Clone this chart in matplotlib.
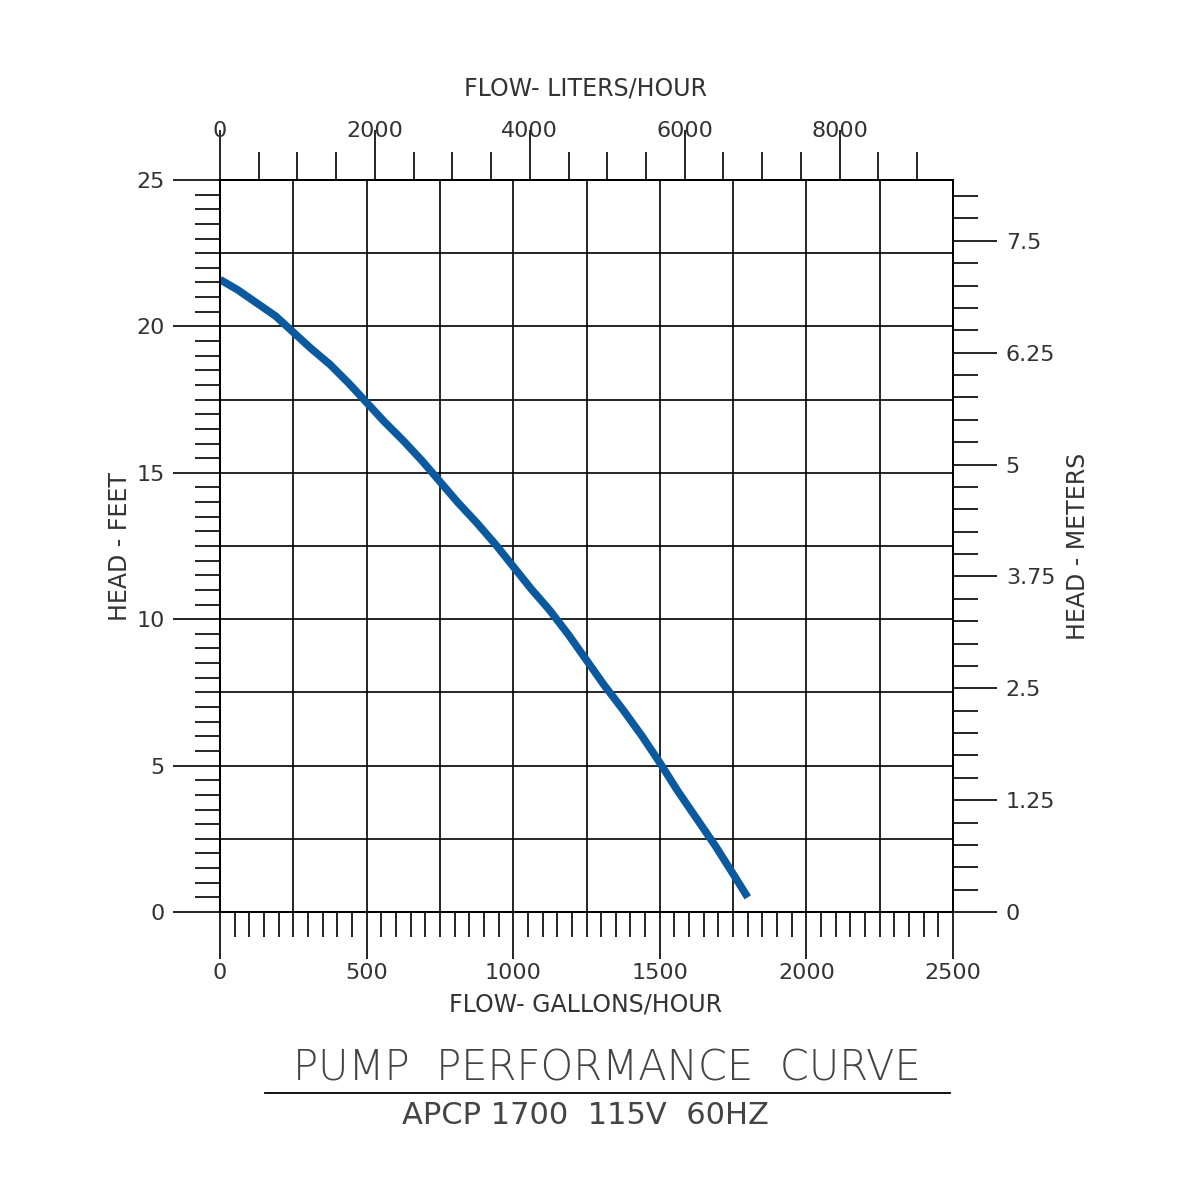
import numpy as np
import matplotlib
matplotlib.use("Agg")
import matplotlib.pyplot as plt
from matplotlib.ticker import MultipleLocator, FixedLocator

# pump curve (gallons/hour, head in feet)
flow_gph = [0, 60, 125, 190, 250, 310, 375, 440, 500, 560, 625, 690, 750, 810, 875, 940,
            1000, 1060, 1125, 1190, 1250, 1310, 1375, 1440, 1500, 1560, 1625, 1690, 1750, 1800]
head_ft = [21.6, 21.25, 20.8, 20.35, 19.8, 19.25, 18.7, 18.05, 17.4, 16.75, 16.1, 15.4, 14.7,
           14.0, 13.3, 12.55, 11.8, 11.05, 10.3, 9.45, 8.6, 7.75, 6.9, 6.0, 5.1, 4.15, 3.2,
           2.25, 1.3, 0.5]
lph_ticks = [0, 2000, 4000, 6000, 8000]
m_ticks = [0, 1.25, 2.5, 3.75, 5, 6.25, 7.5]
m_labels = ["0", "1.25", "2.5", "3.75", "5", "6.25", "7.5"]
m_top = 8.18   # meters value at the top edge, as drawn on the original

GAL_L = 3.78541
TXT = "#333333"
plt.rcParams["font.family"] = "DejaVu Sans"

fig = plt.figure(figsize=(12, 12), dpi=100)
ax = fig.add_axes([220/1200, 288/1200, 733/1200, 732/1200])
ax.plot(flow_gph, head_ft, color="#0b5aa0", lw=5.5, solid_capstyle="butt",
        solid_joinstyle="round", zorder=3)
ax.set_xlim(0, 2500); ax.set_ylim(0, 25)
ax.xaxis.set_major_locator(MultipleLocator(500))
ax.xaxis.set_minor_locator(MultipleLocator(50))
ax.yaxis.set_major_locator(MultipleLocator(5))
ax.yaxis.set_minor_locator(MultipleLocator(0.5))
for v in np.arange(250, 2500, 250):
    ax.axvline(v, color="black", lw=1.2, zorder=1)
for v in np.arange(2.5, 25, 2.5):
    ax.axhline(v, color="black", lw=1.2, zorder=1)
ax.tick_params(which="major", length=34, width=1.2, labelsize=16, labelcolor=TXT, pad=6)
ax.tick_params(which="minor", length=18, width=1.2)
ax.tick_params(axis="x", which="major", pad=3)
for s in ax.spines.values():
    s.set_linewidth(1.3)

# meters on the right
ay = ax.twinx()
ay.set_ylim(0, m_top)
ay.yaxis.set_major_locator(FixedLocator(m_ticks))
ay.set_yticklabels(m_labels)
ay.yaxis.set_minor_locator(MultipleLocator(0.25))
ay.tick_params(which="major", length=32, width=1.2, labelsize=16, labelcolor=TXT, pad=6)
ay.tick_params(which="minor", length=18, width=1.2)

# liters/hour on top
axt = ax.twiny()
axt.set_xlim(0, 2500 * GAL_L)
axt.xaxis.set_major_locator(FixedLocator(lph_ticks))
axt.xaxis.set_minor_locator(MultipleLocator(500))
axt.tick_params(which="major", length=36, width=1.2, labelsize=16, labelcolor=TXT, pad=-8)
axt.tick_params(which="minor", length=20, width=1.2)
for a in (ay, axt):
    for s in a.spines.values():
        s.set_linewidth(1.3)

fig.text(586/1200, 1 - 88/1200, "FLOW- LITERS/HOUR", ha="center", va="center", fontsize=17, color=TXT)
fig.text(586/1200, 1 - 1005/1200, "FLOW- GALLONS/HOUR", ha="center", va="center", fontsize=17, color=TXT)
fig.text(120/1200, 1 - 546/1200, "HEAD - FEET", ha="center", va="center", rotation=90, fontsize=17, color=TXT)
fig.text(1078/1200, 1 - 546/1200, "HEAD - METERS", ha="center", va="center", rotation=90, fontsize=17, color=TXT)
fig.text(607/1200, 1 - 1068/1200, "PUMP  PERFORMANCE  CURVE", ha="center", va="center",
         fontsize=30, color="#444444", fontweight="light")
fig.add_artist(plt.Line2D([265/1200, 950/1200], [1 - 1093/1200] * 2, color="black", lw=1.3))
fig.text(585/1200, 1 - 1115/1200, "APCP 1700  115V  60HZ", ha="center", va="center",
         fontsize=22, color="#444444")

fig.savefig("out.png", dpi=100, facecolor="white")
